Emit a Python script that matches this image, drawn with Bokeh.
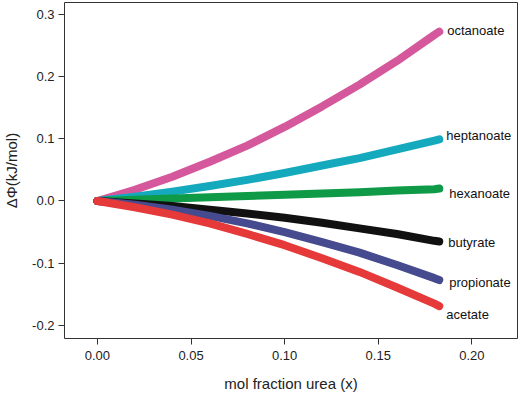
from bokeh.plotting import figure
from bokeh.models import Range1d, FixedTicker, ColumnDataSource
from bokeh.core.properties import value
from bokeh.embed import file_html
from bokeh.resources import INLINE

x_vals = [0.0, 0.02, 0.04, 0.06, 0.08, 0.10, 0.12, 0.14, 0.16, 0.18, 0.1826]
octanoate = [0.0, 0.018, 0.039, 0.063, 0.089, 0.119, 0.152, 0.187, 0.225, 0.267, 0.272]
heptanoate = [0.0, 0.007, 0.015, 0.024, 0.034, 0.045, 0.057, 0.069, 0.083, 0.097, 0.099]
hexanoate = [0.0, 0.002, 0.004, 0.006, 0.008, 0.010, 0.012, 0.014, 0.017, 0.019, 0.020]
butyrate = [0.0, -0.004, -0.008, -0.014, -0.020, -0.027, -0.035, -0.044, -0.053, -0.064, -0.065]
propionate = [0.0, -0.006, -0.014, -0.024, -0.036, -0.050, -0.066, -0.083, -0.103, -0.124, -0.127]
acetate = [0.0, -0.010, -0.022, -0.036, -0.053, -0.071, -0.092, -0.114, -0.139, -0.165, -0.169]

names = ["octanoate", "heptanoate", "hexanoate", "butyrate", "propionate", "acetate"]
series = [octanoate, heptanoate, hexanoate, butyrate, propionate, acetate]
colors = ["#D4589B", "#14A9BD", "#0F9A48", "#111111", "#464A8E", "#E6393A"]
label_dx = [8, 7, 10, 9, 10, 7]
label_dy = [-1, -4, 5, 1, 2, 8]

x_ticks = [0.0, 0.05, 0.10, 0.15, 0.20]
y_ticks = [-0.2, -0.1, 0.0, 0.1, 0.2, 0.3]

p = figure(width=520, height=394, output_backend="svg", toolbar_location=None,
           x_range=Range1d(-0.0176, 0.2244), y_range=Range1d(-0.221, 0.319),
           min_border_left=60, min_border_right=3, min_border_top=2, min_border_bottom=55)
p.xgrid.visible = False
p.ygrid.visible = False
p.outline_line_color = "#333333"
p.outline_line_width = 1
p.background_fill_color = "white"
p.border_fill_color = "white"

for ax in (p.xaxis[0], p.yaxis[0]):
    ax.axis_line_color = None
    ax.major_tick_out = 6
    ax.major_tick_in = 0
    ax.minor_tick_out = 0
    ax.minor_tick_in = 0
    ax.major_tick_line_color = "#333333"
    ax.major_label_text_font = "Liberation Sans"
    ax.major_label_text_font_size = "13px"
    ax.major_label_text_color = "#222222"
    ax.axis_label_text_font = "Liberation Sans"
    ax.axis_label_text_font_size = "15px"
    ax.axis_label_text_font_style = "normal"
    ax.axis_label_text_color = "#222222"

p.xaxis.ticker = FixedTicker(ticks=x_ticks)
p.yaxis.ticker = FixedTicker(ticks=y_ticks)
p.xaxis.major_label_overrides = {t: f"{t:.2f}" for t in x_ticks}
p.yaxis.major_label_overrides = {t: f"{t:.1f}" for t in y_ticks}
p.xaxis.axis_label = "mol fraction urea (x)"
p.yaxis.axis_label = "ΔΦ(kJ/mol)"
p.xaxis.major_label_standoff = 6
p.xaxis.axis_label_standoff = 12
p.yaxis.major_label_standoff = 4
p.yaxis.axis_label_standoff = 9

for name, ys, c in zip(names, series, colors):
    p.line(x_vals, ys, line_color=c, line_width=8, line_cap="round", line_join="round")

src = ColumnDataSource(dict(
    x=[x_vals[-1]] * len(names),
    y=[s[-1] for s in series],
    text=names,
    dx=label_dx,
    dy=label_dy,
))
p.text(x="x", y="y", text="text", x_offset="dx", y_offset="dy", source=src,
       text_font=value("Liberation Sans"), text_font_size="13px",
       text_color="#111111", text_align="left", text_baseline="middle")

open("out.html", "w").write(file_html(p, INLINE))
